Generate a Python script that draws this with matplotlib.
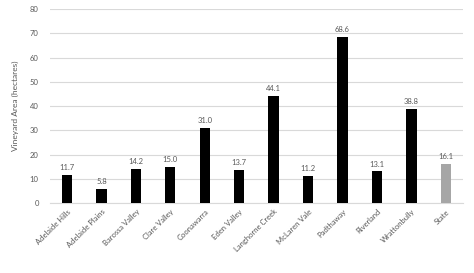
import matplotlib.pyplot as plt

# Vineyard area by region
regions = ["Adelaide Hills", "Adelaide Plains", "Barossa Valley", "Clare Valley",
           "Coonawarra", "Eden Valley", "Langhorne Creek", "McLaren Vale",
           "Padthaway", "Riverland", "Wrattonbully", "State"]
area = [11.7, 5.8, 14.2, 15.0, 31.0, 13.7, 44.1, 11.2, 68.6, 13.1, 38.8, 16.1]
bar_colors = ["black"] * 11 + ["#a6a6a6"]

text_col = "#595959"
plt.rcParams["font.family"] = ["Lato", "DejaVu Sans"]

fig = plt.figure(figsize=(4.74, 2.73), dpi=100)
ax = fig.add_axes([0.105, 0.256, 0.872, 0.711])

x = range(len(regions))
bars = ax.bar(x, area, width=0.3, color=bar_colors, zorder=3)

for i, v in enumerate(area):
    ax.text(i, v + 1.5, f"{v:.1f}", ha="center", va="bottom", fontsize=5.5, color=text_col)

ax.set_ylim(0, 80)
ax.set_xlim(-0.5, len(regions) - 0.5)
ax.set_yticks(range(0, 81, 10))
ax.yaxis.grid(True, color="#d9d9d9", linewidth=0.8, zorder=0)
ax.set_axisbelow(True)

for s in ["top", "right", "left"]:
    ax.spines[s].set_visible(False)
ax.spines["bottom"].set_color("#d9d9d9")

ax.set_xticks(list(x))
ax.set_xticklabels(regions, rotation=45, ha="right", rotation_mode="anchor",
                   fontsize=5.5, color=text_col)
ax.tick_params(axis="both", length=0, labelsize=5.5, colors=text_col)
ax.tick_params(axis="y", pad=8)
ax.set_ylabel("Vineyard Area (hectares)", fontsize=6, color=text_col, labelpad=8)

plt.savefig("out.png", dpi=100)
